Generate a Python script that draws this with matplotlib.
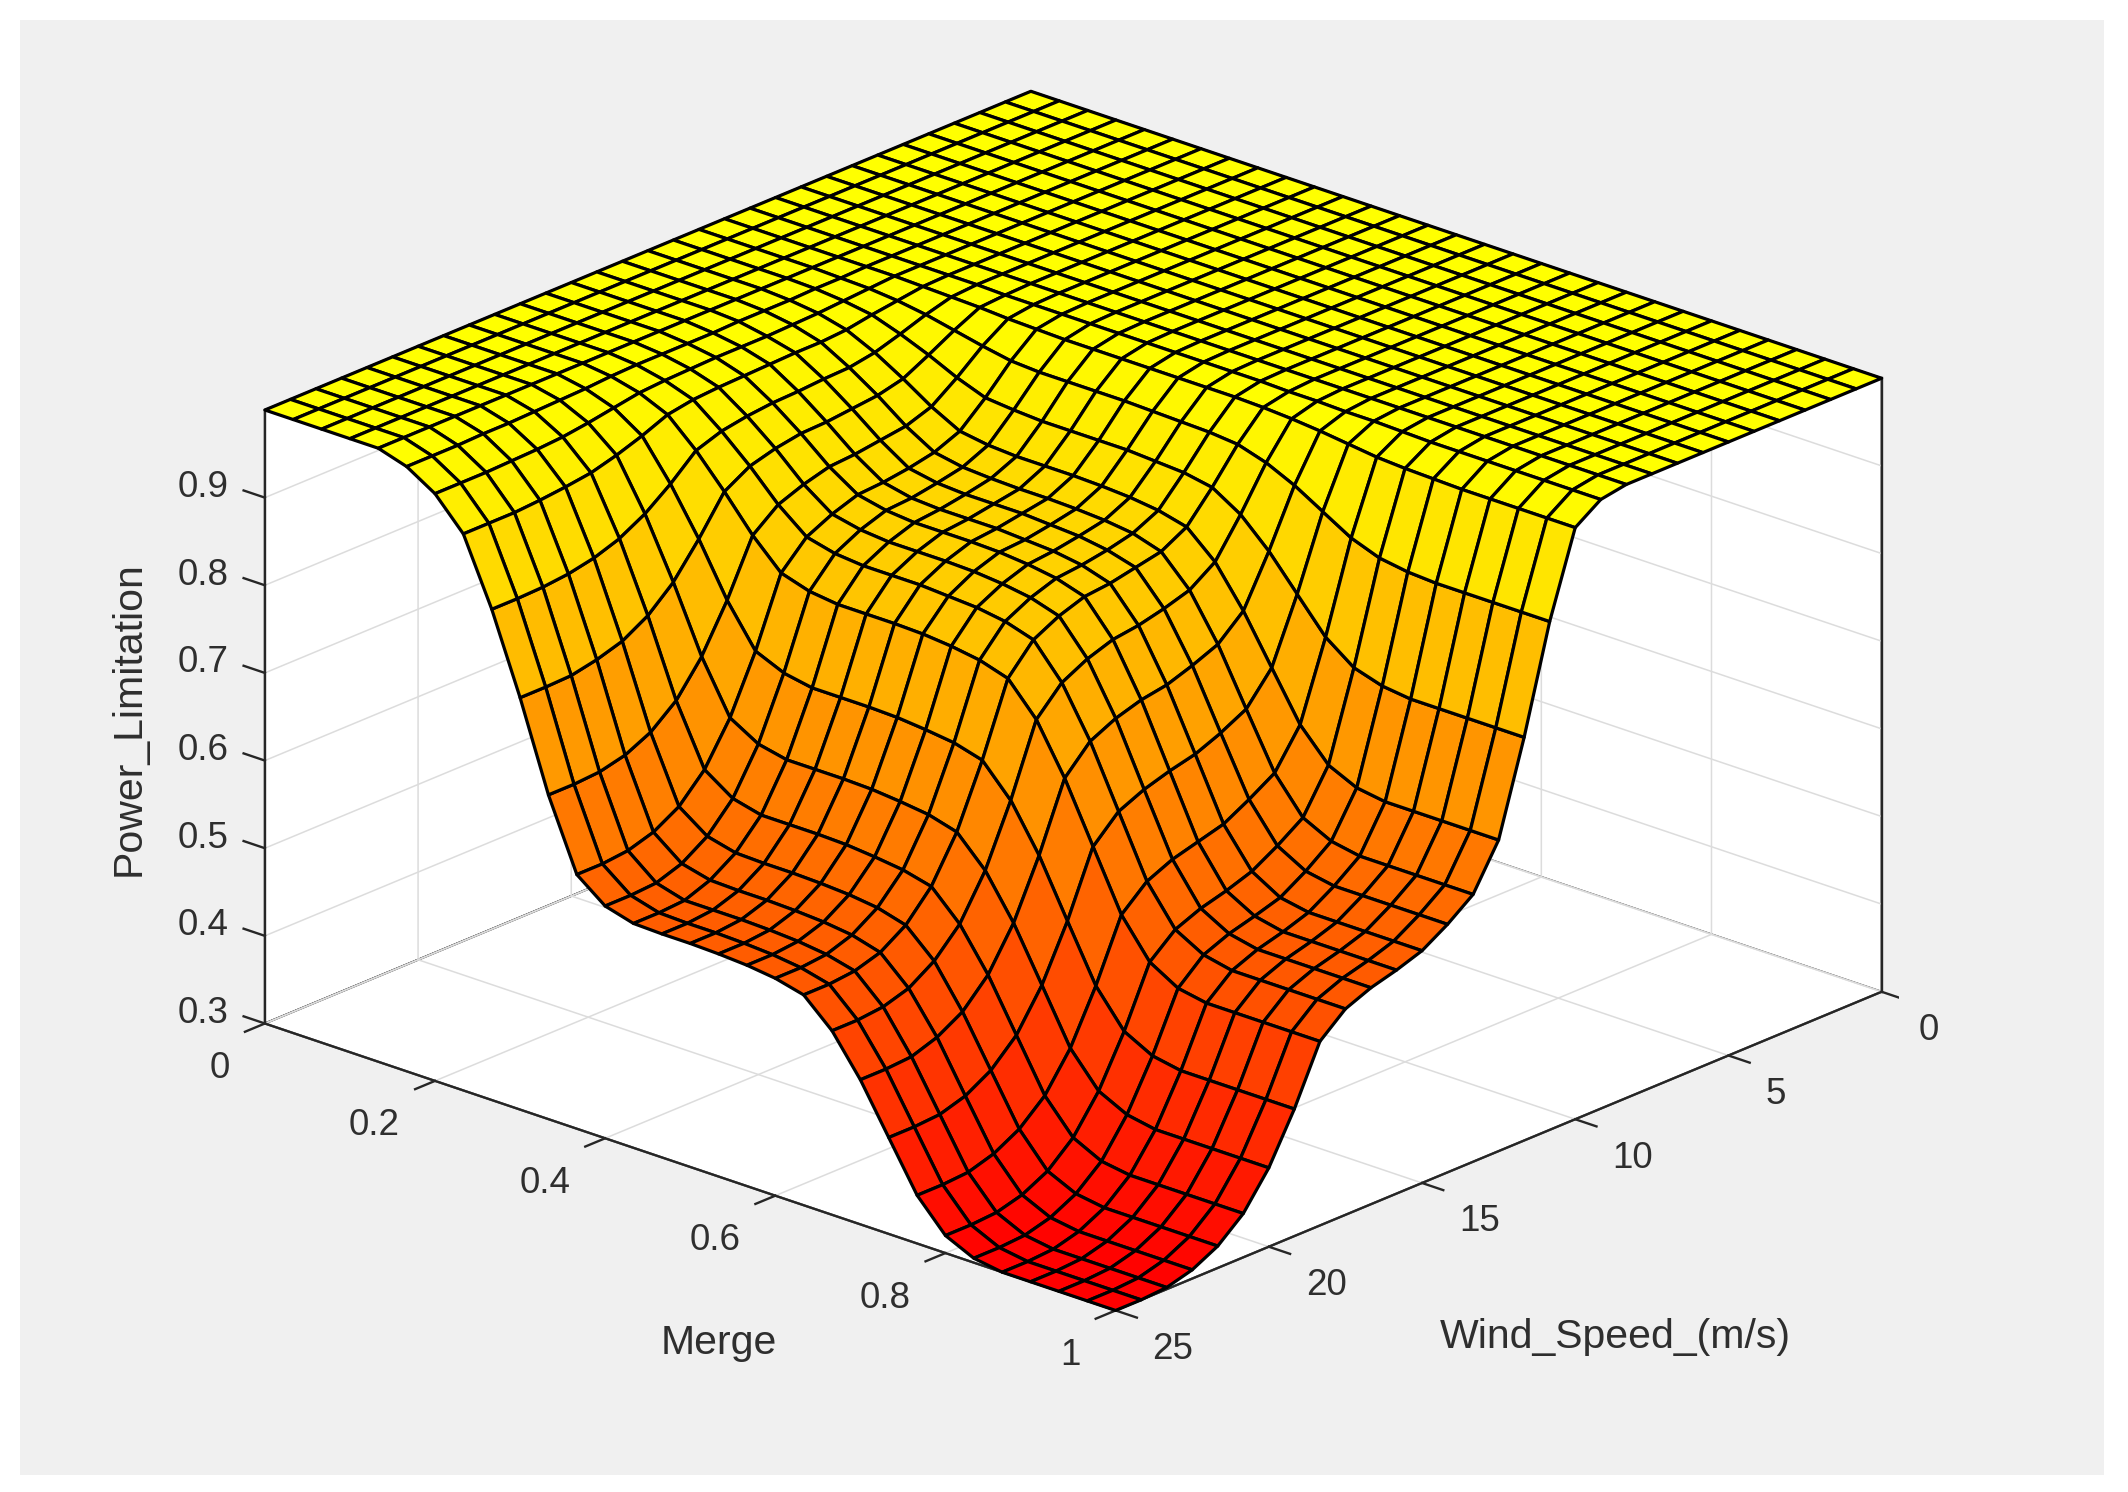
import numpy as np
import matplotlib
matplotlib.use("Agg")
import matplotlib.pyplot as plt
from matplotlib.patches import Rectangle

# grid of the fuzzy surface
wind_speed = [0.0, 0.833, 1.667, 2.5, 3.333, 4.167, 5.0, 5.833, 6.667, 7.5,
              8.333, 9.167, 10.0, 10.833, 11.667, 12.5, 13.333, 14.167, 15.0,
              15.833, 16.667, 17.5, 18.333, 19.167, 20.0, 20.833, 21.667,
              22.5, 23.333, 24.167, 25.0]
merge = [0.0, 0.0333, 0.0667, 0.1, 0.1333, 0.1667, 0.2, 0.2333, 0.2667, 0.3,
         0.3333, 0.3667, 0.4, 0.4333, 0.4667, 0.5, 0.5333, 0.5667, 0.6, 0.6333,
         0.6667, 0.7, 0.7333, 0.7667, 0.8, 0.8333, 0.8667, 0.9, 0.9333,
         0.9667, 1.0]

# one row per wind speed (0 -> 25), one column per merge value (0 -> 1)
power_limitation = [
    [1.0] * 31,
    [1.0] * 31,
    [1.0] * 31,
    [1.0] * 31,
    [1.0] * 31,
    [1.0] * 31,
    [1.0] * 31,
    [1.0] * 31,
    [1.0] * 31,
    [1.0] * 31,
    [1.0] * 31,
    [1.0, 1.0, 1.0, 1.0, 1.0, 1.0, 1.0, 1.0, 1.0, 0.999, 0.999, 0.999, 0.999, 0.999, 0.999, 0.999,
     0.999, 0.999, 0.999, 0.998, 0.998, 0.997, 0.997, 0.996, 0.995, 0.995, 0.995, 0.995, 0.995, 0.995, 0.995],
    [1.0, 1.0, 1.0, 1.0, 1.0, 1.0, 1.0, 0.999, 0.998, 0.997, 0.995, 0.994, 0.993, 0.993, 0.993, 0.993,
     0.993, 0.993, 0.993, 0.992, 0.990, 0.987, 0.983, 0.979, 0.977, 0.976, 0.975, 0.975, 0.975, 0.975, 0.975],
    [1.0, 1.0, 1.0, 1.0, 1.0, 0.999, 0.998, 0.995, 0.990, 0.983, 0.976, 0.970, 0.968, 0.968, 0.968, 0.968,
     0.967, 0.966, 0.965, 0.962, 0.952, 0.937, 0.918, 0.899, 0.887, 0.882, 0.880, 0.880, 0.880, 0.880, 0.880],
    [1.0, 1.0, 1.0, 1.0, 1.0, 0.999, 0.996, 0.991, 0.980, 0.967, 0.952, 0.940, 0.937, 0.935, 0.935, 0.935,
     0.935, 0.933, 0.931, 0.925, 0.905, 0.874, 0.836, 0.798, 0.774, 0.764, 0.760, 0.760, 0.760, 0.760, 0.760],
    [1.0, 1.0, 1.0, 1.0, 1.0, 0.998, 0.994, 0.986, 0.971, 0.952, 0.931, 0.914, 0.909, 0.907, 0.907, 0.907,
     0.906, 0.904, 0.900, 0.892, 0.863, 0.818, 0.764, 0.710, 0.675, 0.660, 0.655, 0.655, 0.655, 0.655, 0.655],
    [1.0, 1.0, 1.0, 1.0, 1.0, 0.998, 0.993, 0.984, 0.966, 0.945, 0.921, 0.902, 0.896, 0.894, 0.893, 0.893,
     0.892, 0.890, 0.886, 0.876, 0.843, 0.792, 0.729, 0.667, 0.627, 0.611, 0.605, 0.605, 0.605, 0.605, 0.605],
    [1.0, 1.0, 1.0, 1.0, 1.0, 0.998, 0.992, 0.984, 0.965, 0.942, 0.917, 0.896, 0.890, 0.888, 0.888, 0.888,
     0.886, 0.884, 0.879, 0.870, 0.834, 0.780, 0.714, 0.649, 0.607, 0.589, 0.583, 0.583, 0.583, 0.583, 0.583],
    [1.0, 1.0, 1.0, 1.0, 1.0, 0.997, 0.992, 0.983, 0.963, 0.939, 0.913, 0.892, 0.885, 0.883, 0.883, 0.883,
     0.881, 0.879, 0.874, 0.864, 0.827, 0.770, 0.702, 0.633, 0.590, 0.571, 0.565, 0.565, 0.565, 0.565, 0.565],
    [1.0, 1.0, 1.0, 1.0, 1.0, 0.997, 0.992, 0.982, 0.962, 0.938, 0.911, 0.890, 0.883, 0.880, 0.880, 0.880,
     0.879, 0.876, 0.871, 0.861, 0.823, 0.765, 0.695, 0.625, 0.580, 0.562, 0.555, 0.555, 0.555, 0.555, 0.555],
    [1.0, 1.0, 1.0, 1.0, 1.0, 0.997, 0.991, 0.981, 0.959, 0.933, 0.903, 0.880, 0.873, 0.870, 0.870, 0.870,
     0.869, 0.866, 0.861, 0.851, 0.813, 0.756, 0.686, 0.617, 0.572, 0.554, 0.547, 0.547, 0.547, 0.547, 0.547],
    [1.0, 1.0, 1.0, 1.0, 1.0, 0.997, 0.990, 0.979, 0.954, 0.925, 0.892, 0.866, 0.858, 0.855, 0.855, 0.855,
     0.853, 0.851, 0.846, 0.836, 0.798, 0.742, 0.673, 0.604, 0.560, 0.542, 0.535, 0.535, 0.535, 0.535, 0.535],
    [1.0, 1.0, 1.0, 1.0, 1.0, 0.996, 0.988, 0.974, 0.944, 0.908, 0.869, 0.837, 0.827, 0.823, 0.823, 0.823,
     0.822, 0.819, 0.814, 0.804, 0.768, 0.712, 0.645, 0.578, 0.535, 0.516, 0.510, 0.510, 0.510, 0.510, 0.510],
    [1.0, 1.0, 1.0, 1.0, 1.0, 0.994, 0.983, 0.962, 0.918, 0.866, 0.807, 0.760, 0.746, 0.740, 0.740, 0.740,
     0.739, 0.736, 0.732, 0.723, 0.688, 0.636, 0.572, 0.509, 0.468, 0.451, 0.445, 0.445, 0.445, 0.445, 0.445],
    [1.0, 1.0, 1.0, 1.0, 1.0, 0.993, 0.978, 0.952, 0.896, 0.829, 0.755, 0.696, 0.677, 0.670, 0.670, 0.670,
     0.669, 0.666, 0.662, 0.653, 0.620, 0.571, 0.511, 0.450, 0.412, 0.396, 0.390, 0.390, 0.390, 0.390, 0.390],
    [1.0, 1.0, 1.0, 1.0, 1.0, 0.992, 0.974, 0.944, 0.880, 0.803, 0.717, 0.649, 0.627, 0.619, 0.619, 0.619,
     0.618, 0.615, 0.611, 0.603, 0.571, 0.524, 0.466, 0.408, 0.371, 0.355, 0.350, 0.350, 0.350, 0.350, 0.350],
    [1.0, 1.0, 1.0, 1.0, 1.0, 0.991, 0.972, 0.940, 0.870, 0.786, 0.693, 0.619, 0.596, 0.588, 0.587, 0.587,
     0.586, 0.584, 0.580, 0.571, 0.541, 0.494, 0.438, 0.382, 0.345, 0.330, 0.325, 0.325, 0.325, 0.325, 0.325],
    [1.0, 1.0, 1.0, 1.0, 1.0, 0.991, 0.971, 0.937, 0.864, 0.777, 0.679, 0.602, 0.577, 0.569, 0.568, 0.568,
     0.567, 0.565, 0.561, 0.552, 0.522, 0.477, 0.421, 0.366, 0.330, 0.315, 0.310, 0.310, 0.310, 0.310, 0.310],
    [1.0, 1.0, 1.0, 1.0, 1.0, 0.990, 0.970, 0.935, 0.861, 0.771, 0.672, 0.593, 0.567, 0.558, 0.558, 0.558,
     0.557, 0.555, 0.551, 0.543, 0.513, 0.467, 0.412, 0.357, 0.322, 0.307, 0.302, 0.302, 0.302, 0.302, 0.302],
    [1.0, 1.0, 1.0, 1.0, 1.0, 0.990, 0.970, 0.935, 0.860, 0.770, 0.670, 0.590, 0.565, 0.556, 0.555, 0.555,
     0.554, 0.552, 0.548, 0.540, 0.510, 0.465, 0.410, 0.355, 0.320, 0.305, 0.300, 0.300, 0.300, 0.300, 0.300],
    [1.0, 1.0, 1.0, 1.0, 1.0, 0.990, 0.970, 0.935, 0.860, 0.770, 0.670, 0.590, 0.565, 0.556, 0.555, 0.555,
     0.554, 0.552, 0.548, 0.540, 0.510, 0.465, 0.410, 0.355, 0.320, 0.305, 0.300, 0.300, 0.300, 0.300, 0.300],
]

wind_ticks = [0, 5, 10, 15, 20, 25]
wind_tick_labels = ["0", "5", "10", "15", "20", "25"]
merge_ticks = [0, 0.2, 0.4, 0.6, 0.8, 1.0]
merge_tick_labels = ["0", "0.2", "0.4", "0.6", "0.8", "1"]
z_ticks = [0.3, 0.4, 0.5, 0.6, 0.7, 0.8, 0.9]
z_tick_labels = ["0.3", "0.4", "0.5", "0.6", "0.7", "0.8", "0.9"]

W_PX, H_PX = 2128, 1492
TEXT = "#2e2e2e"
EDGE = "#262626"

plt.rcParams["font.family"] = ["Liberation Sans", "DejaVu Sans"]
plt.rcParams["grid.color"] = "#dcdcdc"
plt.rcParams["grid.linewidth"] = 1.1

fig = plt.figure(figsize=(W_PX / 100, H_PX / 100), dpi=100, facecolor="white")
fig.add_artist(Rectangle((0.0094, 0.0114), 0.9793, 0.9752, transform=fig.transFigure,
                         facecolor="#f0f0f0", edgecolor="none", zorder=-5))

ax = fig.add_axes([0.1, 0.1, 0.8, 0.8], projection="3d")
ax.set_facecolor((0, 0, 0, 0))
ax.computed_zorder = False

W, M = np.meshgrid(np.array(wind_speed), np.array(merge), indexing="ij")
Z = np.array(power_limitation)
ax.plot_surface(W, M, Z, rstride=1, cstride=1, cmap="autumn",
                vmin=Z.min(), vmax=Z.max(), edgecolor="black",
                linewidth=2.3, antialiased=True, shade=False, zorder=2)

ax.set_xlim(0, 25)
ax.set_ylim(0, 1)
ax.set_zlim(0.3, 1.0)
ax.set_proj_type("ortho")
ax.view_init(elev=22, azim=42)
ax.set_box_aspect((1, 1, 0.578))

ax.set_xticks(wind_ticks)
ax.set_yticks(merge_ticks)
ax.set_zticks(z_ticks)
ax.set_xticklabels([""] * len(wind_ticks))
ax.set_yticklabels([""] * len(merge_ticks))
ax.set_zticklabels([""] * len(z_ticks))

for axis in (ax.xaxis, ax.yaxis, ax.zaxis):
    axis.set_pane_color((1, 1, 1, 1))
    axis.pane.set_edgecolor(EDGE)
    axis.pane.set_linewidth(1.5)
    axis.line.set_visible(False)
    axis._axinfo["tick"]["inward_factor"] = 0.0
    axis._axinfo["tick"]["outward_factor"] = 0.0
ax.tick_params(axis="both", color=(0, 0, 0, 0))
ax.tick_params(axis="z", color=(0, 0, 0, 0))

# box edges on top of the grid, under the surface
edge_kw = dict(color=EDGE, lw=1.7, zorder=1)
ax.plot([25, 25], [0, 1], [0.3, 0.3], **edge_kw)
ax.plot([0, 25], [1, 1], [0.3, 0.3], **edge_kw)
ax.plot([25, 25], [0, 0], [0.3, 1.0], **edge_kw)
ax.plot([0, 0], [1, 1], [0.3, 1.0], **edge_kw)

# tick marks like MATLAB, pointing out of the box
for w in wind_ticks:
    ax.plot([w, w], [1.0, 1.025], [0.3, 0.3], **edge_kw)
for m in merge_ticks:
    ax.plot([25, 25.65], [m, m], [0.3, 0.3], **edge_kw)
for z in z_ticks:
    ax.plot([25, 25], [0.0, -0.025], [z, z], **edge_kw)


def to_px(x, y, z):
    v = ax.get_proj() @ np.array([x, y, z, 1.0])
    return ax.transData.transform((v[0] / v[3], v[1] / v[3]))


# place the box where it sits in the reference (pixel targets, origin bottom-left)
corners = [(25, 0, 0.3), (25, 1, 0.3), (0, 1, 0.3), (0, 0, 1.0)]
targets = np.array([[265, 471], [1115, 182], [1886, 501], [1027, 1397]], dtype=float)
for _ in range(3):
    fig.canvas.draw()
    p = np.array([to_px(*c) for c in corners])
    bb = ax.get_position()
    cen = np.array([(bb.x0 + bb.x1) / 2 * W_PX, (bb.y0 + bb.y1) / 2 * H_PX])
    size = bb.width * W_PX
    pm, qm = p.mean(0), targets.mean(0)
    r = ((p - pm) * (targets - qm)).sum() / ((p - pm) ** 2).sum()
    t = qm - r * pm
    cen2 = r * cen + t
    size2 = r * size
    ax.set_position([(cen2[0] - size2 / 2) / W_PX, (cen2[1] - size2 / 2) / H_PX,
                     size2 / W_PX, size2 / H_PX])
fig.canvas.draw()

TICK_FS = 26.5
for z, lab in zip(z_ticks, z_tick_labels):
    px, py = to_px(25, 0, z)
    fig.text((px - 36) / W_PX, (py + 10) / H_PX, lab, ha="right", va="center",
             fontsize=TICK_FS, color=TEXT)
for m, lab in zip(merge_ticks, merge_tick_labels):
    px, py = to_px(25, m, 0.3)
    fig.text((px - 35) / W_PX, (py - 45) / H_PX, lab, ha="right", va="center",
             fontsize=TICK_FS, color=TEXT)
for w, lab in zip(wind_ticks, wind_tick_labels):
    px, py = to_px(w, 1, 0.3)
    fig.text((px + 37) / W_PX, (py - 39) / H_PX, lab, ha="left", va="center",
             fontsize=TICK_FS, color=TEXT)

LABEL_FS = 29.5
fig.text(719 / W_PX, 149 / H_PX, "Merge", ha="center", va="center",
         fontsize=LABEL_FS, color=TEXT)
fig.text(1615 / W_PX, 155 / H_PX, "Wind_Speed_(m/s)", ha="center", va="center",
         fontsize=LABEL_FS, color=TEXT)
fig.text(129 / W_PX, 773 / H_PX, "Power_Limitation", ha="center", va="center",
         rotation=90, fontsize=LABEL_FS, color=TEXT)

fig.savefig("out.png", dpi=100, facecolor=fig.get_facecolor())
